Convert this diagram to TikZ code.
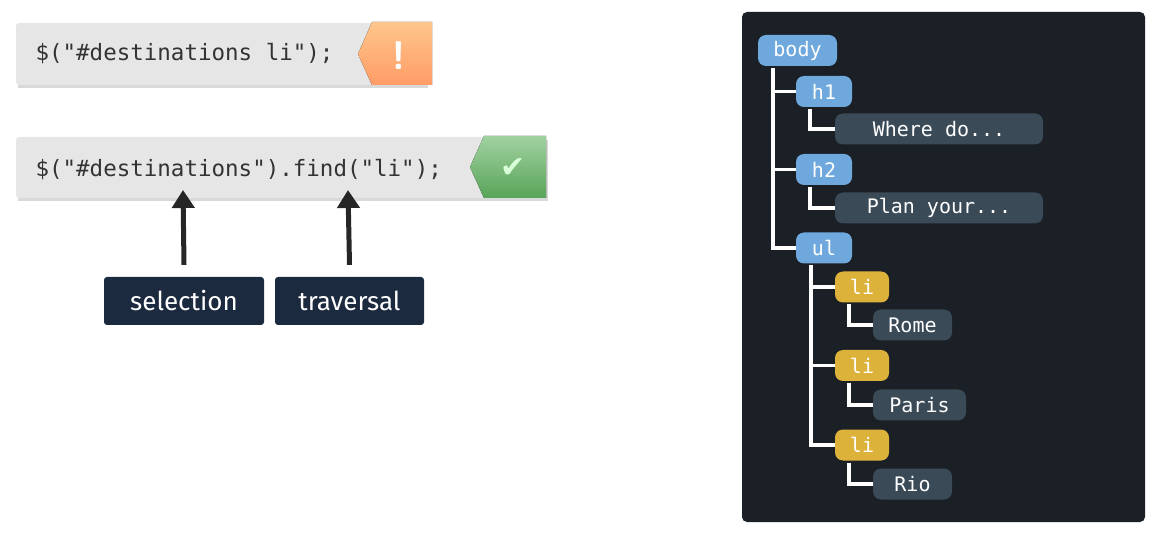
\documentclass[tikz,border=0pt]{standalone}
\usepackage{fontspec}
\usetikzlibrary{arrows.meta}
\setmonofont{DejaVu Sans Mono}
\newfontfamily\labfont{Fira Sans}
\newfontfamily\symfont{DejaVu Sans}
\begin{document}
\begin{tikzpicture}[x=1pt,y=-1pt,
 lab/.style={fill=labdark,rounded corners=3pt,text=white,font=\labfont\fontsize{26}{30}\selectfont,minimum height=48pt,inner xsep=0pt},
 tn/.style={rounded corners=8pt,text=white,font=\ttfamily\fontsize{20}{22}\selectfont,minimum height=31pt,inner sep=0pt},
 tb/.style={tn,fill=tblue},ty/.style={tn,fill=tyel},tg/.style={tn,fill=tgrey},
 tl/.style={white,line width=3.5pt},
 code/.style={anchor=west,font=\ttfamily\fontsize{22.5}{26}\selectfont,text=black!80},
 arr/.style={line width=5pt,-{Triangle[length=18pt,width=22pt]},black!85}]
\definecolor{codegrey}{HTML}{E6E6E6}
\definecolor{labdark}{HTML}{1C2A3F}
\definecolor{tblue}{HTML}{6FA8DC}
\definecolor{tyel}{HTML}{DDB23A}
\definecolor{tgrey}{HTML}{3A4A57}
\definecolor{panel}{HTML}{1B1F26}
\useasboundingbox (0,0) rectangle (1154,534);
% code boxes
\fill[black!15] (18,26) rectangle (428,88);
\fill[codegrey,rounded corners=3pt] (16,23) rectangle (425,85);
\fill[top color=orange!45!white,bottom color=orange!70!red!60!white] (372,22) -- (432,22) -- (432,85) -- (372,85) -- (358,54) -- cycle;
\node[text=white,font=\sffamily\bfseries\fontsize{40}{40}\selectfont] (ex) at (399,56) {!};
\node[code] (c1) at (32,54) {\$("\#destinations li");};
\fill[black!15] (18,140) rectangle (548,201);
\fill[codegrey,rounded corners=3pt] (16,137) rectangle (545,198);
\fill[top color=green!35!gray!55!white,bottom color=green!45!black!65] (484,136) -- (546,136) -- (546,198) -- (484,198) -- (470,167) -- cycle;
\node[text=white!85!green,font=\symfont\fontsize{30}{30}\selectfont] (ck) at (513,168) {✔};
\node[code] (c2) at (32,170) {\$("\#destinations").find("li");};
\node[lab,minimum width=160pt] (sel) at (184,301) {selection};
\node[lab,minimum width=149pt] (tra) at (349.5,301) {traversal};
\coordinate (a1) at (183,190);
\coordinate (a2) at (348,190);
\draw[arr] (sel.north) ++(0,-12) -- (a1);
\draw[arr] (tra.north) ++(0,-12) -- (a2);
% panel
\fill[panel,rounded corners=5pt] (742,12) rectangle (1145,522);
\node[tb,minimum width=79pt] (body) at (797.5,50.5) {body};
\node[tb,minimum width=56pt] (h1) at (824,91.5) {h1};
\node[tg,minimum width=208pt] (w) at (939,129) {Where do...};
\node[tb,minimum width=56pt] (h2) at (824,169.5) {h2};
\node[tg,minimum width=208pt] (p) at (939,208) {Plan your...};
\node[tb,minimum width=56pt] (ul) at (824,248) {ul};
\node[ty,minimum width=54pt] (l1) at (862,287) {li};
\node[tg,minimum width=79pt] (r1) at (912.5,325) {Rome};
\node[ty,minimum width=54pt] (l2) at (862,365.5) {li};
\node[tg,minimum width=93pt] (r2) at (919.5,405) {Paris};
\node[ty,minimum width=54pt] (l3) at (862,445) {li};
\node[tg,minimum width=79pt] (r3) at (912.5,484) {Rio};
\draw[tl] (773,68) -- (773,248) -- (ul.west);
\draw[tl] (773,91.5) -- (h1.west);
\draw[tl] (773,169.5) -- (h2.west);
\draw[tl] (810,109) -- (810,129) -- (w.west);
\draw[tl] (810,187) -- (810,208) -- (p.west);
\draw[tl] (811,265) -- (811,445) -- (l3.west);
\draw[tl] (811,287) -- (l1.west);
\draw[tl] (811,365.5) -- (l2.west);
\draw[tl] (849,304) -- (849,325) -- (r1.west);
\draw[tl] (849,383) -- (849,405) -- (r2.west);
\draw[tl] (849,463) -- (849,484) -- (r3.west);
\end{tikzpicture}
\end{document}
